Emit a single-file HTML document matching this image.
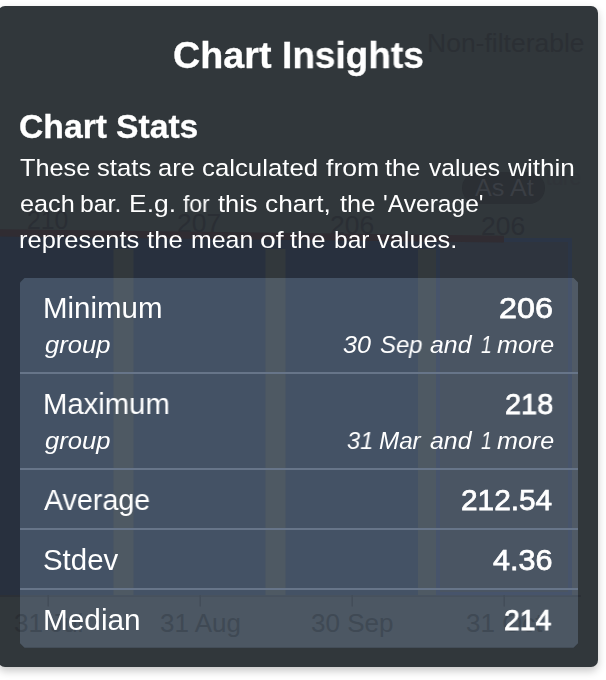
<!DOCTYPE html>
<html>
<head>
<meta charset="utf-8">
<title>Chart Insights</title>
<style>
html,body{margin:0;padding:0;background:#fff;}
body{width:606px;height:680px;overflow:hidden;position:relative;font-family:"Liberation Sans",sans-serif;}
.panel{position:absolute;left:-2px;top:6px;width:600px;height:661px;background:#31373b;border-radius:7px;box-shadow:0 4px 9px rgba(0,0,0,.22);overflow:hidden;}
.abs{position:absolute;}
.t{will-change:transform;position:absolute;white-space:nowrap;line-height:1;color:#fff;transform-origin:0 0;}
.p{font-size:24.5px;}
.s{font-size:24.2px;font-style:italic;}
.v{font-size:29.4px;-webkit-text-stroke:0.75px #fff;}
.r{transform-origin:100% 0;}
.ghost{position:absolute;white-space:nowrap;line-height:1;transform-origin:0 0;}
/* inner wrapper restores page coordinates inside the panel */
.in{position:absolute;left:2px;top:-6px;width:606px;height:680px;}
.tbl{position:absolute;left:20px;top:278px;width:558px;height:369.5px;clip-path:polygon(4.5px 0,553.5px 0,558px 4.5px,558px 365px,553.5px 369.5px,4.5px 369.5px,0 365px,0 4.5px);overflow:hidden;background:#445265;}
.tin{position:absolute;left:-20px;top:-278px;width:606px;height:680px;}
.sep{position:absolute;left:20px;width:558px;height:2px;background:#677589;}
</style>
</head>
<body>
<div class="panel"><div class="in">

  <!-- underlying chart (pre-blended colours) -->
  <div class="ghost" style="left:426.6px;top:31.2px;font-size:25px;color:#2b2f34;transform:scaleX(1.06)">Non-filterable</div>
  <div class="abs" style="left:462px;top:172px;width:83px;height:32px;border-radius:16px;background:#2b2f34"></div>
  <div class="ghost" style="left:474.5px;top:176px;font-size:24px;color:#3a3e44;transform:scaleX(1.05)">As At</div>
  <div class="ghost" style="left:546px;top:167.5px;font-size:21.5px;color:#303439;transform:scaleX(0.95)">ture</div>

  <div class="ghost" style="left:27px;top:208px;font-size:25px;color:#2a2e34;transform:scaleX(0.99)">210</div>
  <div class="ghost" style="left:176.5px;top:211px;font-size:25px;color:#2a2e34;transform:scaleX(1.06)">207</div>
  <div class="ghost" style="left:330px;top:213px;font-size:25px;color:#2a2e34;transform:scaleX(1.06)">206</div>
  <div class="ghost" style="left:481px;top:214px;font-size:25px;color:#2a2e34;transform:scaleX(1.06)">206</div>

  <!-- bars -->
  <svg class="abs" style="left:0;top:0" width="606" height="680" viewBox="0 0 606 680">
    <polygon points="-5,236 504,242 572,242 572,595 -5,595" fill="#28303e"/>
    <rect x="113.5" y="249" width="20" height="346" fill="#32383c"/>
    <rect x="265.5" y="249" width="20" height="346" fill="#32383c"/>
    <rect x="418" y="249" width="18" height="346" fill="#32383c"/>
    <rect x="438" y="240" width="132" height="354" fill="#2e343e" stroke="#2b3546" stroke-width="4"/>
    <polygon points="-5,229.2 504,235.8 504,242.4 -5,236.4" fill="#302c32"/>
    <rect x="0" y="595" width="581" height="2" fill="#2c3036"/>
    <rect x="47.5" y="595" width="1.5" height="12" fill="#2c3036"/>
    <rect x="199.5" y="595" width="1.5" height="12" fill="#2c3036"/>
    <rect x="351.5" y="595" width="1.5" height="12" fill="#2c3036"/>
    <rect x="503.5" y="595" width="1.5" height="12" fill="#2c3036"/>
  </svg>
  <div class="ghost" style="left:14px;top:610px;font-size:26px;color:#2a2e33">31 Jul</div>

  <!-- headings -->
  <div class="t" style="left:173.2px;top:36.7px;font-size:37.5px;font-weight:bold;-webkit-text-stroke:0.3px #fff;transform:scaleX(1.006)">Chart</div>
  <div class="t" style="left:281.9px;top:36.7px;font-size:37.5px;font-weight:bold;-webkit-text-stroke:0.3px #fff;transform:scaleX(0.986)">Insights</div>
  <div class="t" style="left:19px;top:109.6px;font-size:33.5px;font-weight:bold;-webkit-text-stroke:0.3px #fff;transform:scaleX(1.006)">Chart</div>
  <div class="t" style="left:115.7px;top:109.6px;font-size:33.5px;font-weight:bold;-webkit-text-stroke:0.3px #fff;transform:scaleX(1.005)">Stats</div>
  <div class="t p" style="left:20.2px;top:156px;transform:scaleX(1.033)">These</div>
  <div class="t p" style="left:96.5px;top:156px;transform:scaleX(1.049)">stats</div>
  <div class="t p" style="left:158.3px;top:156px;transform:scaleX(1.041)">are</div>
  <div class="t p" style="left:201.6px;top:156px;transform:scaleX(1.052)">calculated</div>
  <div class="t p" style="left:325.7px;top:156px;transform:scaleX(1.085)">from</div>
  <div class="t p" style="left:385.0px;top:156px;transform:scaleX(1.036)">the</div>
  <div class="t p" style="left:429.3px;top:156px;transform:scaleX(1.003)">values</div>
  <div class="t p" style="left:508.3px;top:156px;transform:scaleX(1.067)">within</div>
  <div class="t p" style="left:19.7px;top:192px;transform:scaleX(1.030)">each</div>
  <div class="t p" style="left:80.2px;top:192px;transform:scaleX(1.010)">bar.</div>
  <div class="t p" style="left:128.6px;top:192px;transform:scaleX(1.080)">E.g.</div>
  <div class="t p" style="left:183.1px;top:192px;transform:scaleX(0.931)">for</div>
  <div class="t p" style="left:218.0px;top:192px;transform:scaleX(1.038)">this</div>
  <div class="t p" style="left:264.9px;top:192px;transform:scaleX(1.073)">chart,</div>
  <div class="t p" style="left:339.7px;top:192px;transform:scaleX(1.036)">the</div>
  <div class="t p" style="left:382.8px;top:192px;transform:scaleX(1.004)">'Average'</div>
  <div class="t p" style="left:18.9px;top:228px;transform:scaleX(1.039)">represents</div>
  <div class="t p" style="left:147.0px;top:228px;transform:scaleX(1.048)">the</div>
  <div class="t p" style="left:191.0px;top:228px;transform:scaleX(1.016)">mean</div>
  <div class="t p" style="left:259.6px;top:228px;transform:scaleX(1.153)">of</div>
  <div class="t p" style="left:290.4px;top:228px;transform:scaleX(1.045)">the</div>
  <div class="t p" style="left:333.5px;top:228px;transform:scaleX(0.992)">bar</div>
  <div class="t p" style="left:377.3px;top:228px;transform:scaleX(1.035)">values.</div>

  <!-- table -->
  <div class="tbl"><div class="tin">
    <svg class="abs" style="left:0;top:0" width="606" height="680" viewBox="0 0 606 680">
      <rect x="113.5" y="278" width="20" height="317" fill="#4e5963"/>
      <rect x="265.5" y="278" width="20" height="317" fill="#4e5963"/>
      <rect x="418" y="278" width="18" height="317" fill="#4e5963"/>
      <rect x="438" y="270" width="132" height="324" fill="#4a5563" stroke="#47546b" stroke-width="4"/>
      <rect x="572" y="278" width="10" height="317" fill="#505a66"/>
      <rect x="0" y="595.500" width="606" height="60" fill="#4c5763"/>
      <rect x="0" y="595.500" width="606" height="1.5" fill="#47515d"/>
      <rect x="47.5" y="595" width="1.5" height="11.5" fill="#434d59"/>
      <rect x="199.5" y="595" width="1.5" height="11.5" fill="#434d59"/>
      <rect x="351.5" y="595" width="1.5" height="11.5" fill="#434d59"/>
      <rect x="503.5" y="595" width="1.5" height="11.5" fill="#434d59"/>
    </svg>
    <div class="ghost" style="left:14px;top:610px;font-size:26px;color:#3f4954">31 Jul</div>
    <div class="ghost" style="left:160px;top:610px;font-size:26px;color:#3f4954">31 Aug</div>
    <div class="ghost" style="left:311px;top:610px;font-size:26px;color:#3f4954">30 Sep</div>
    <div class="ghost" style="left:466px;top:610px;font-size:26px;color:#3f4954">31 Oct</div>

    <div class="sep" style="top:372px"></div>
    <div class="sep" style="top:468px"></div>
    <div class="sep" style="top:528px"></div>
    <div class="sep" style="top:588px"></div>

    <div class="t" style="left:43.4px;top:293px;font-size:29.4px;transform:scaleX(1.002)">Minimum</div>
    <div class="t" style="left:44.6px;top:333.1px;font-size:24.2px;font-style:italic;transform:scaleX(1.058)">group</div>
    <div class="t v" style="left:498.7px;top:293.2px;transform:scaleX(1.098)">206</div>
    <div class="t s" style="left:342.7px;top:333px;transform:scaleX(1.039)">30</div>
    <div class="t s" style="left:379.7px;top:333px;transform:scaleX(0.987)">Sep</div>
    <div class="t s" style="left:429.6px;top:333px;transform:scaleX(1.027)">and</div>
    <div class="t s" style="left:480.7px;top:333px;transform:scaleX(0.8)">1</div>
    <div class="t s" style="left:497.2px;top:333px;transform:scaleX(1.037)">more</div>

    <div class="t" style="left:43.4px;top:389px;font-size:29.4px;transform:scaleX(0.995)">Maximum</div>
    <div class="t" style="left:44.6px;top:429.1px;font-size:24.2px;font-style:italic;transform:scaleX(1.058)">group</div>
    <div class="t v" style="left:504.5px;top:389.2px;transform:scaleX(0.983)">218</div>
    <div class="t s" style="left:346.8px;top:429px;transform:scaleX(0.975)">31</div>
    <div class="t s" style="left:379.2px;top:429px;transform:scaleX(0.998)">Mar</div>
    <div class="t s" style="left:429.6px;top:429px;transform:scaleX(1.027)">and</div>
    <div class="t s" style="left:480.7px;top:429px;transform:scaleX(0.8)">1</div>
    <div class="t s" style="left:497.2px;top:429px;transform:scaleX(1.037)">more</div>

    <div class="t" style="left:44.2px;top:485.1px;font-size:29.4px;transform:scaleX(0.975)">Average</div>
    <div class="t v" style="left:461px;top:485.2px;transform:scaleX(1.014)">212.54</div>

    <div class="t" style="left:43.1px;top:545.2px;font-size:29.4px;transform:scaleX(1.001)">Stdev</div>
    <div class="t v" style="left:493px;top:545.3px;transform:scaleX(1.039)">4.36</div>

    <div class="t" style="left:43.4px;top:605.1px;font-size:29.4px;transform:scaleX(1.013)">Median</div>
    <div class="t v" style="left:503.9px;top:605.2px;transform:scaleX(0.965)">214</div>
  </div></div>

</div></div>
</body>
</html>
